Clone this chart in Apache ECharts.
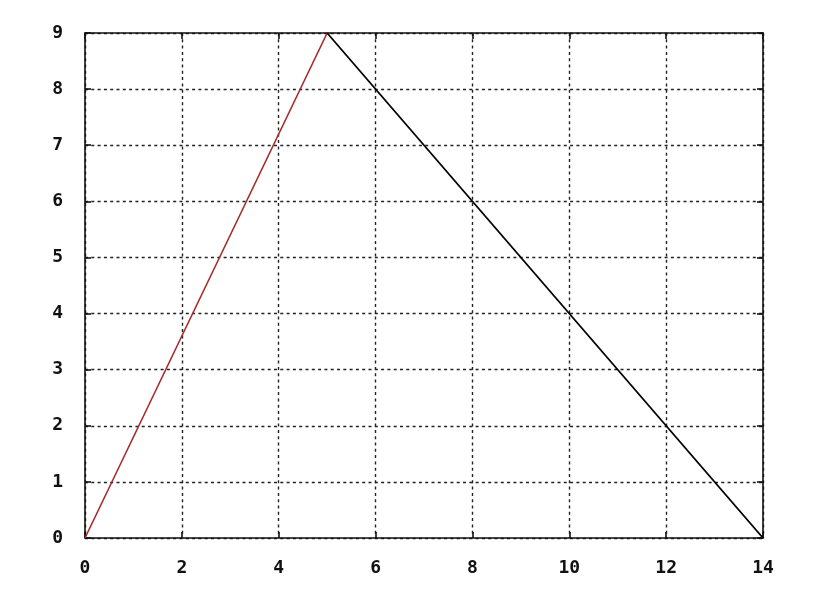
<!DOCTYPE html>
<html lang="en">
<head>
<meta charset="UTF-8">
<title>Chart</title>
<script src="https://cdn.jsdelivr.net/npm/echarts@6/dist/echarts.min.js"></script>
<style>
  body { margin: 0; padding: 0; background: #fff; }
  #main { width: 834px; height: 608px; }
</style>
</head>
<body>
<div id="main"></div>
<script type="text/javascript">
// data
var risePoints = [[0, 0], [5, 9]];
var fallPoints = [[5, 9], [14, 0]];
var xRange = [0, 14];
var yRange = [0, 9];

var font = 'DejaVu Sans Mono';
var dotted = { color: '#222', width: 1.4, type: [3, 3.3] };

var chart = echarts.init(document.getElementById('main'));

function axisBase(pos, showLabels, grid) {
  return {
    type: 'value',
    position: pos,
    axisLine: { show: true, onZero: false, lineStyle: { color: '#111', width: 1.6 } },
    axisTick: { show: true, inside: true, length: 6, lineStyle: { color: '#111', width: 1.6 } },
    axisLabel: {
      show: showLabels,
      color: '#111',
      fontFamily: font,
      fontWeight: 'bold',
      fontSize: 18
    },
    splitLine: { show: grid, lineStyle: dotted }
  };
}

var xBottom = axisBase('bottom', true, true);
xBottom.min = xRange[0]; xBottom.max = xRange[1]; xBottom.interval = 2;
xBottom.axisLabel.margin = 21;
var xTop = axisBase('top', false, false);
xTop.min = xRange[0]; xTop.max = xRange[1]; xTop.interval = 2;

var yLeft = axisBase('left', true, true);
yLeft.min = yRange[0]; yLeft.max = yRange[1]; yLeft.interval = 1;
yLeft.axisLabel.margin = 22;
var yRight = axisBase('right', false, false);
yRight.min = yRange[0]; yRight.max = yRange[1]; yRight.interval = 1;

var option = {
  backgroundColor: '#fff',
  animation: false,
  grid: { left: 85, right: 71, top: 33, bottom: 70 },
  xAxis: [xBottom, xTop],
  yAxis: [yLeft, yRight],
  series: [
    {
      type: 'line',
      data: risePoints,
      symbol: 'none',
      lineStyle: { color: '#a52a2a', width: 1.6 },
      z: 3
    },
    {
      type: 'line',
      data: fallPoints,
      symbol: 'none',
      lineStyle: { color: '#000', width: 1.8 },
      z: 3
    }
  ]
};
chart.setOption(option);
</script>
</body>
</html>
